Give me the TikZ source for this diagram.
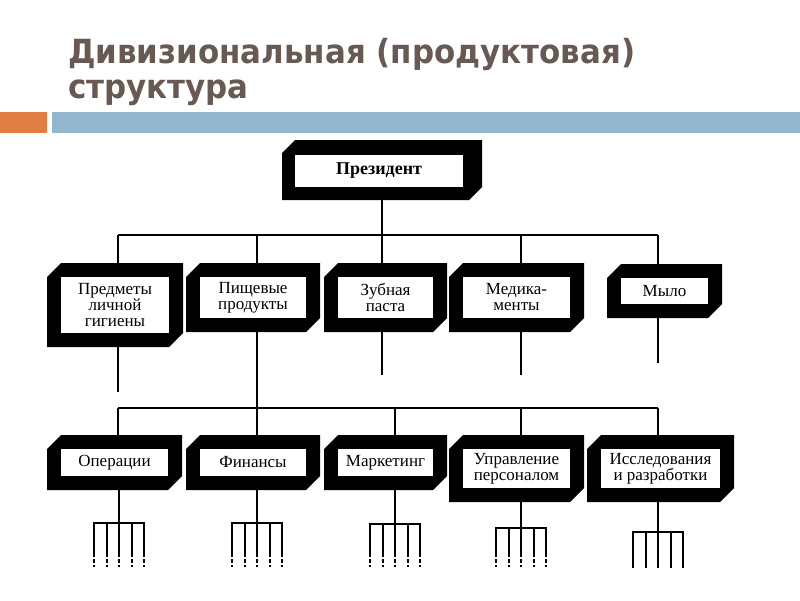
\documentclass[tikz,border=0pt]{standalone}
\usepackage{fontspec}
\setmainfont{Liberation Serif}
\newfontfamily\titlefont{DejaVu Sans}
\usetikzlibrary{calc}
\definecolor{titlecol}{RGB}{104,90,82}
\definecolor{barorange}{RGB}{224,126,70}
\definecolor{barblue}{RGB}{148,181,206}
\tikzset{
  conn/.style={line width=2pt},
  outerbox/.style={inner sep=0pt, draw=none},
  innerbox/.style={fill=white, inner sep=0pt, align=center, font=\fontsize{17}{16}\selectfont},
  prongdash/.style={line width=2pt, dash pattern=on 4pt off 2pt},
  titletext/.style={anchor=base west, inner sep=0pt, text=titlecol, font=\titlefont\bfseries\fontsize{32}{32}\selectfont},
}
% name, x0, y0, x1, y1, text
\newcommand\dbox[6]{%
  \fill ({#2+14},#3) -- (#4,#3) -- (#4,{#5-14}) -- ({#4-14},#5) -- (#2,#5) -- (#2,{#3+14}) -- cycle;
  \node[outerbox, minimum width={(#4-#2)*1pt}, minimum height={(#5-#3)*1pt}] (#1) at ({(#2+#4)/2},{(#3+#5)/2}) {};
  \node[innerbox, minimum width={(#4-#2-28)*1pt}, minimum height={(#5-#3-28)*1pt}] (#1t) at (#1.center) {#6};
}
\begin{document}
\begin{tikzpicture}[x=1pt,y=-1pt]
\useasboundingbox (0,0) rectangle (800,600);
\fill[white] (0,0) rectangle (800,600);
% title
\node[titletext] (title1) at (68,63) {\scalebox{0.966}[1.04]{Дивизиональная (продуктовая)}};
\node[titletext] (title2) at (68,98) {\scalebox{0.966}[1.04]{структура}};
\fill[barorange] (0,112) rectangle (47,133);
\fill[barblue] (52,112) rectangle (800,133);

% president
\fill (295,140) -- (482,140) -- (482,187) -- (469,200) -- (282,200) -- (282,153) -- cycle;
\node[outerbox, minimum width=200pt, minimum height=60pt] (pres) at (382,170) {};
\node[innerbox, minimum width=168pt, minimum height=32pt, font=\bfseries\fontsize{18}{18}\selectfont] (prest) at (379,171) {Президент};

% level 2
\dbox{b1}{47}{263}{183}{347}{Предметы\\личной\\гигиены}
\dbox{b2}{186}{263}{320}{332}{Пищевые\\продукты}
\dbox{b3}{324}{263}{447}{332}{Зубная\\паста}
\dbox{b4}{449}{263}{584}{332}{Медика-\\менты}
\dbox{b5}{607}{264}{722}{318}{Мыло}

% level 3
\dbox{c1}{47}{435}{182}{490}{Операции}
\dbox{c2}{186}{435}{320}{490}{Финансы}
\dbox{c3}{324}{435}{447}{490}{Маркетинг}
\dbox{c4}{449}{435}{584}{502}{Управление\\персоналом}
\dbox{c5}{587}{435}{734}{502}{Исследования\\и разработки}

% upper bus
\coordinate (h1) at (118,235);
\coordinate (h2) at (257,235);
\coordinate (h3) at (382,235);
\coordinate (h4) at (521,235);
\coordinate (h5) at (658,235);
\draw[conn] (pres.south -| h3) -- (h3);
\draw[conn] (h1) -- (h5);
\foreach \i in {1,...,5}{\draw[conn] (h\i) -- (h\i |- b\i.north);}

% lower bus
\coordinate (m1) at (118,408);
\coordinate (m2) at (257,408);
\coordinate (m3) at (395,408);
\coordinate (m4) at (521,408);
\coordinate (m5) at (658,408);
\coordinate (e1) at (118,392);
\coordinate (e3) at (382,375);
\coordinate (e4) at (521,375);
\coordinate (e5) at (658,363);
\draw[conn] (b1.south -| e1) -- (e1);
\draw[conn] (b2.south -| m2) -- (m2);
\draw[conn] (b3.south -| e3) -- (e3);
\draw[conn] (b4.south -| e4) -- (e4);
\draw[conn] (b5.south -| e5) -- (e5);
\draw[conn] (m1) -- (m5);
\foreach \i in {1,...,5}{\draw[conn] (m\i) -- (m\i |- c\i.north);}

% forks
\coordinate (t1) at (119,523);
\coordinate (t2) at (257,523);
\coordinate (t3) at (395,524);
\coordinate (t4) at (521,528);
\coordinate (t5) at (658,532);
\foreach \i in {1,...,5}{
  \draw[conn] (c\i.south -| t\i) -- (t\i);
  \draw[conn] ($(t\i)+(-26,0)$) -- ($(t\i)+(26,0)$);
}
\foreach \i in {1,...,4}{
  \foreach \dx in {-25,-12.5,0,12.5,25}{
    \draw[conn] ($(t\i)+(\dx,-1)$) coordinate (p) -- (p |- 0,553) coordinate (q);
    \draw[prongdash] (q) -- (q |- 0,567);
  }
}
\foreach \dx in {-25,-12.5,0,12.5,25}{
  \draw[conn] ($(t5)+(\dx,-1)$) coordinate (p) -- (p |- 0,568);
}
\end{tikzpicture}
\end{document}
